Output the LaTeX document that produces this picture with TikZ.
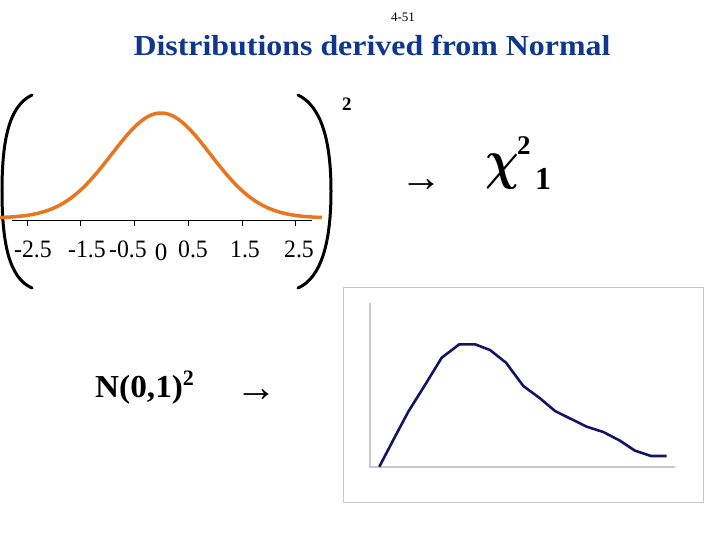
\documentclass[tikz,border=0pt]{standalone}
\usepackage{fontspec}
\usepackage{bm}
\setmainfont{Liberation Serif}
\definecolor{titleblue}{RGB}{15,55,140}
\definecolor{curveorange}{RGB}{232,118,30}
\definecolor{navyline}{RGB}{20,20,100}
\definecolor{boxgray}{RGB}{200,200,200}
\tikzset{
  paren/.style={line width=3pt, line cap=round},
  ticklab/.style={anchor=base, inner sep=0pt, font=\fontsize{25}{25}\selectfont},
  bigtext/.style={inner sep=0pt, font=\fontsize{32}{32}\selectfont\bfseries},
  arrowtext/.style={inner sep=0pt, font=\fontsize{42}{42}\selectfont}
}
\begin{document}
\begin{tikzpicture}[x=1pt,y=-1pt]
\useasboundingbox (0,0) rectangle (720,540);
% page number and title
\node[anchor=base, inner sep=0pt, font=\fontsize{13}{13}\selectfont] (pg) at (403,22) {4-51};
\node[anchor=base, inner sep=0pt, text=titleblue, font=\fontsize{29}{29}\selectfont\bfseries] (title) at (372,56) {\scalebox{1.1}[1]{Distributions derived from Normal}};
% parentheses
\draw[paren] (32,95) .. controls (9,106) and (2,140) .. (2,191) .. controls (2,243) and (9,278) .. (32,288);
\draw[paren] (298,95) .. controls (321,106) and (331,140) .. (331,191) .. controls (331,243) and (321,278) .. (298,288);
\node[anchor=base west, inner sep=0pt, font=\fontsize{19}{19}\selectfont\bfseries] (sq) at (342,111) {2};
% axis
\draw[line width=0.8pt] (12,220) -- (312,220);
\foreach \t in {27,80,134,188,242,295} \draw[line width=0.8pt] (\t,220) -- (\t,226);
% gaussian
\draw[curveorange, line width=3.5pt, line join=round] plot[domain=-3:3, samples=120, smooth] ({161+53.6*\x},{218-105*exp(-(\x)^2/1.7)});
% tick labels
\node[ticklab] (l1) at (33,258) {\scalebox{0.95}[1]{-2.5}};
\node[ticklab] (l2) at (87,258) {\scalebox{0.95}[1]{-1.5}};
\node[ticklab] (l3) at (128,258) {\scalebox{0.95}[1]{-0.5}};
\node[ticklab] (l4) at (161,260) {0};
\node[ticklab] (l5) at (193,258) {\scalebox{0.95}[1]{0.5}};
\node[ticklab] (l6) at (245,258) {\scalebox{0.95}[1]{1.5}};
\node[ticklab] (l7) at (299,258) {\scalebox{0.95}[1]{2.5}};
% chi square
\node[arrowtext, anchor=base west] (ar1) at (400,192) {→};
\node[anchor=base west, inner sep=0pt, font=\fontsize{10}{12}\selectfont] (chi) at (485,179) {\scalebox{4.7}[5.5]{$\bm{\chi}$}};
\node[anchor=base west, inner sep=0pt, font=\fontsize{27}{27}\selectfont\bfseries] (chi2) at (517,155) {2};
\node[anchor=base west, inner sep=0pt, font=\fontsize{32}{32}\selectfont\bfseries] (chi1) at (535,190) {1};
% N(0,1)^2
\node[bigtext, anchor=base west] (n01) at (95,397) {\scalebox{1.04}[1]{N(0,1)}\raisebox{12pt}{\fontsize{22}{22}\selectfont 2}};
\node[arrowtext, anchor=base west] (ar2) at (235,401) {→};
% chart
\draw[boxgray, line width=1pt] (343,287) rectangle (703,502);
\draw[boxgray, line width=1.2pt] (370,303) -- (370,467) -- (675,467);
\draw[navyline, line width=2.6pt, line join=round] (379.3,466.7) -- (395,436.7) -- (408.3,411.7) -- (425,385) -- (441.7,357.7) -- (459.3,344.3) -- (475,344.3) -- (490,350) -- (506,362.7) -- (523.3,386) -- (540,398.3) -- (555,411) -- (586.7,426.7) -- (603.3,432) -- (620,440.7) -- (635,450.7) -- (651,456) -- (666.7,456);
\end{tikzpicture}
\end{document}
